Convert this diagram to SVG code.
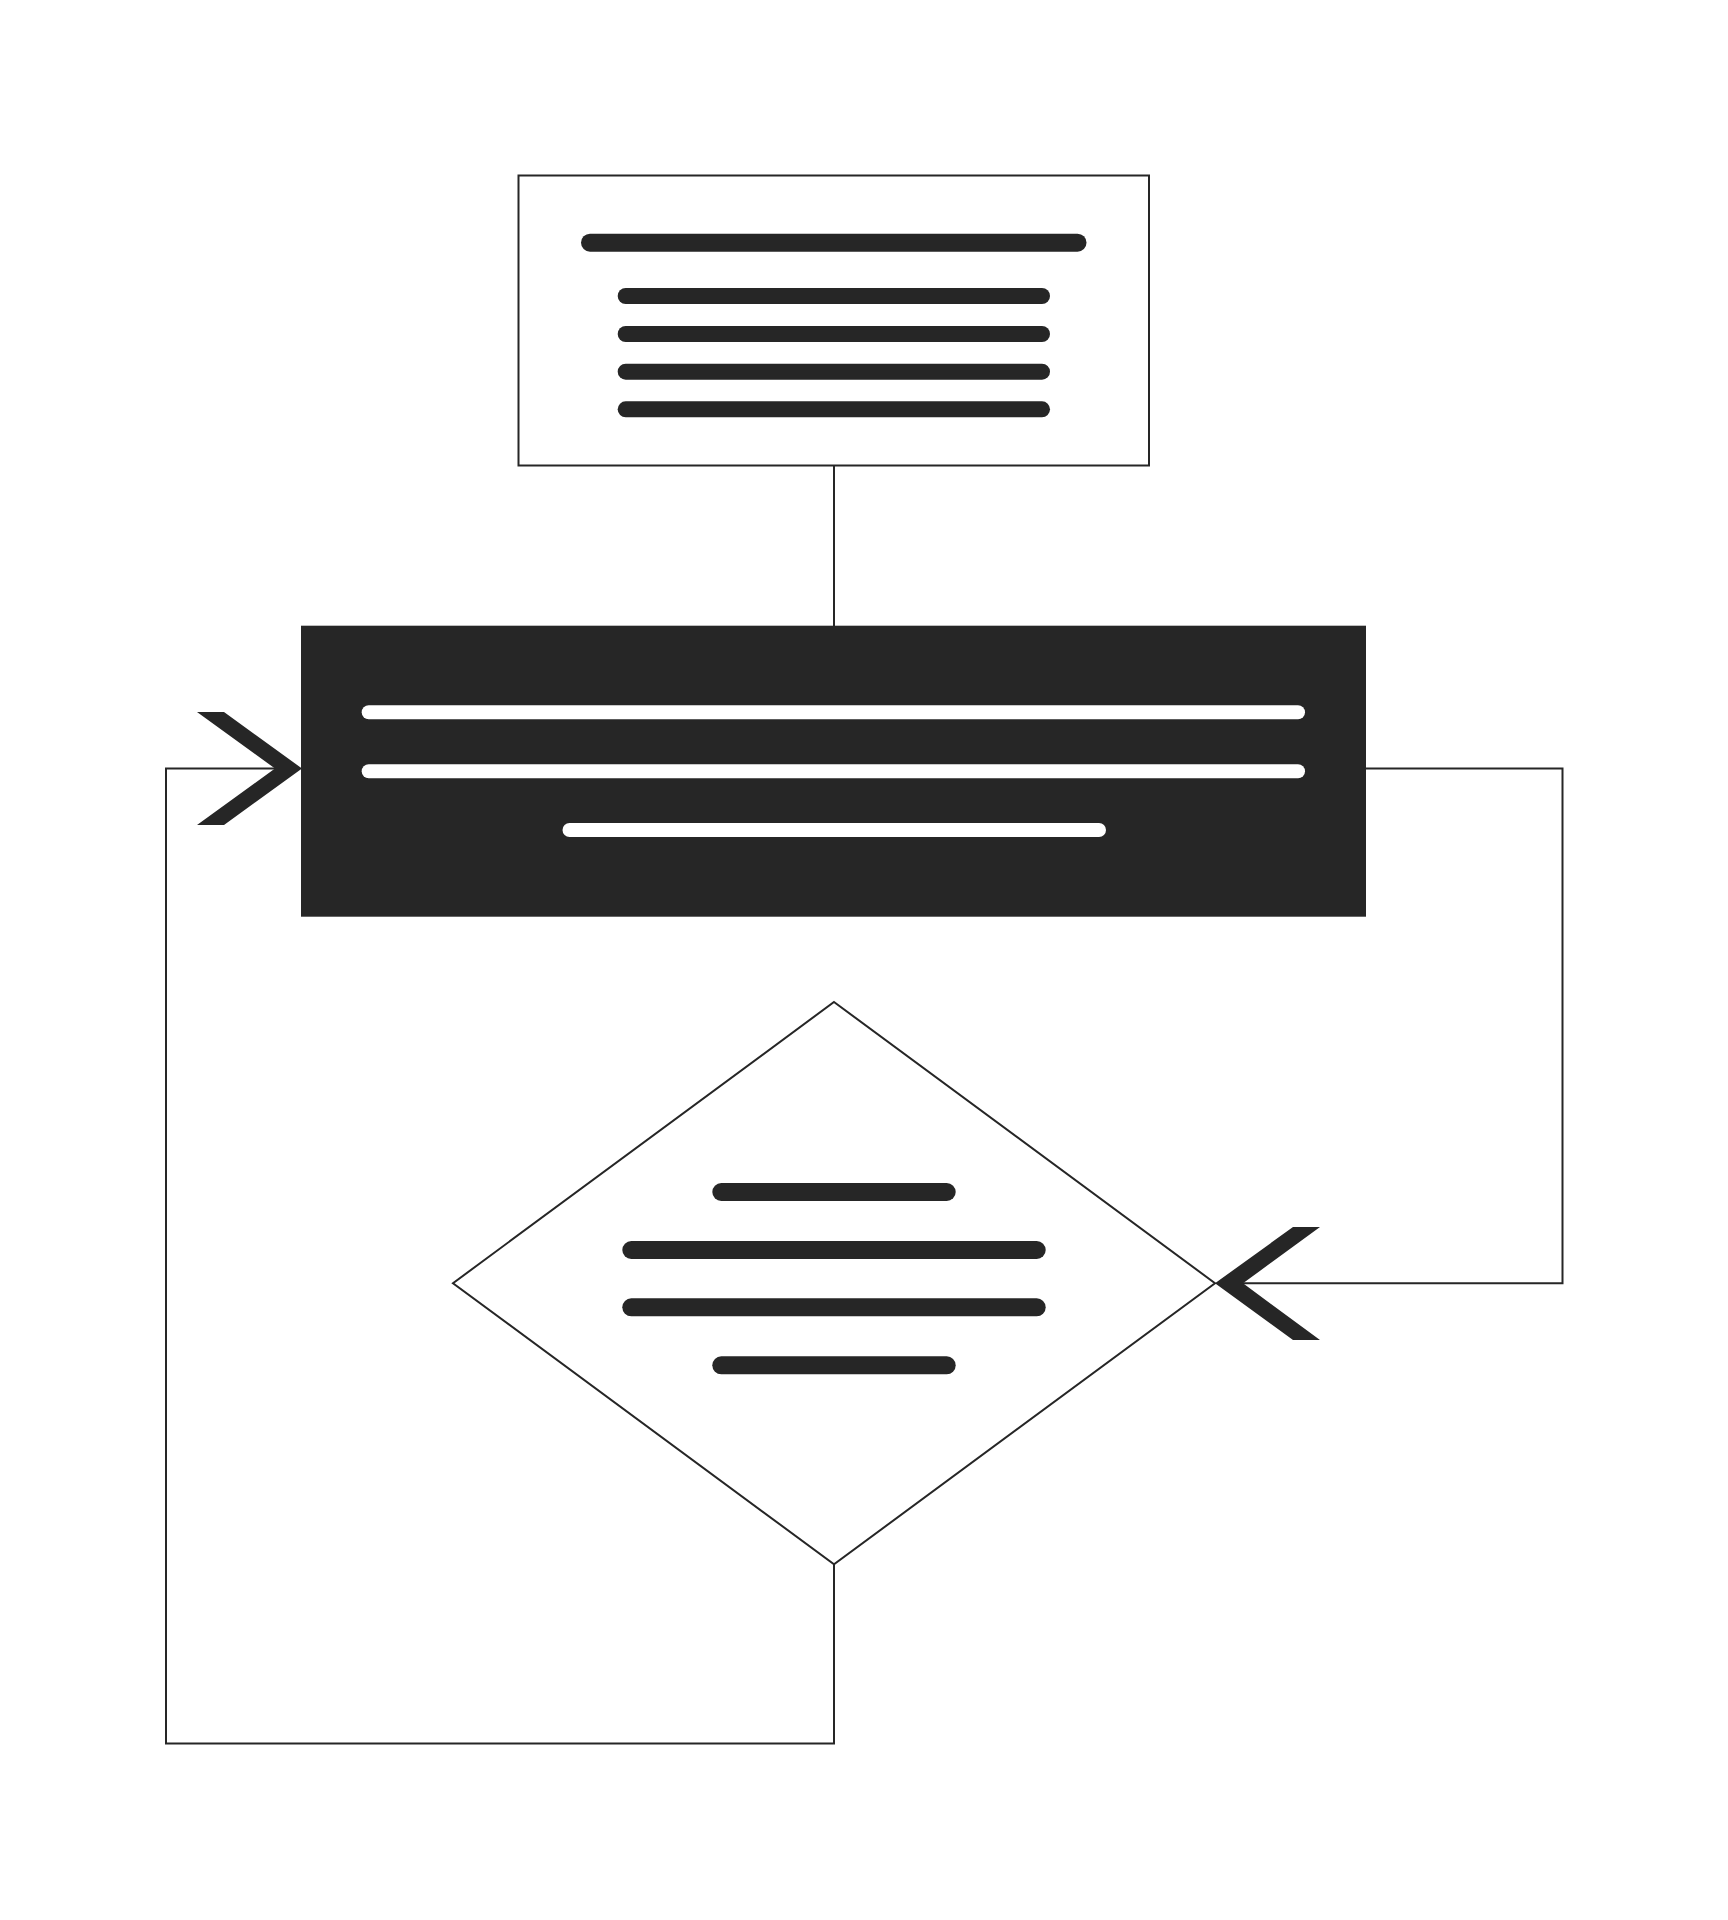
<svg xmlns="http://www.w3.org/2000/svg" width="1728" height="1920" viewBox="0 0 1728 1920">
  <style>
    .frame { fill: #ffffff; stroke: #262626; stroke-width: 2; }
    .conn { fill: none; stroke: #262626; stroke-width: 2; }
    .bar { stroke: #262626; stroke-linecap: round; fill: none; }
    .wbar { stroke: #ffffff; stroke-linecap: round; stroke-width: 14; fill: none; }
    .arrow { fill: #262626; stroke: none; }
  </style>
  <rect width="1728" height="1920" fill="#ffffff"/>
  <g id="connectors">
    <line class="conn" x1="834" y1="465.5" x2="834" y2="626"/>
    <polyline class="conn" points="1366,768.5 1562.5,768.5 1562.5,1283.3 1243,1283.3"/>
    <polyline class="conn" points="834,1564.3 834,1743.5 166,1743.5 166,768.5 276,768.5"/>
    <polygon class="arrow" points="197,712 224,712 302,768.5 224,825 197,825 275,768.5"/>
    <polygon class="arrow" points="1215,1283.3 1293,1227 1320,1227 1243,1283.3 1320,1340 1293,1340"/>
  </g>
  <g id="node-start">
    <rect class="frame" x="518.5" y="175.5" width="630.5" height="290"/>
    <line class="bar" stroke-width="18" x1="590" y1="242.7" x2="1077.5" y2="242.7"/>
    <line class="bar" stroke-width="16" x1="625.7" y1="296" x2="1042" y2="296"/>
    <line class="bar" stroke-width="16" x1="625.7" y1="334" x2="1042" y2="334"/>
    <line class="bar" stroke-width="16" x1="625.7" y1="371.7" x2="1042" y2="371.7"/>
    <line class="bar" stroke-width="16" x1="625.7" y1="409.3" x2="1042" y2="409.3"/>
  </g>
  <g id="node-process">
    <rect x="301" y="625.7" width="1065" height="291" fill="#262626"/>
    <line class="wbar" x1="368.7" y1="712.3" x2="1298" y2="712.3"/>
    <line class="wbar" x1="368.7" y1="771.2" x2="1298" y2="771.2"/>
    <line class="wbar" x1="569.5" y1="830" x2="1099" y2="830"/>
  </g>
  <g id="node-decision">
    <polygon class="frame" points="834,1002 1215,1283.2 834,1564.3 453,1283.2"/>
    <line class="bar" stroke-width="18" x1="721.3" y1="1192" x2="946.7" y2="1192"/>
    <line class="bar" stroke-width="18" x1="631.3" y1="1250" x2="1036.7" y2="1250"/>
    <line class="bar" stroke-width="18" x1="631.3" y1="1307.3" x2="1036.7" y2="1307.3"/>
    <line class="bar" stroke-width="18" x1="721.3" y1="1365.3" x2="946.7" y2="1365.3"/>
  </g>
</svg>
